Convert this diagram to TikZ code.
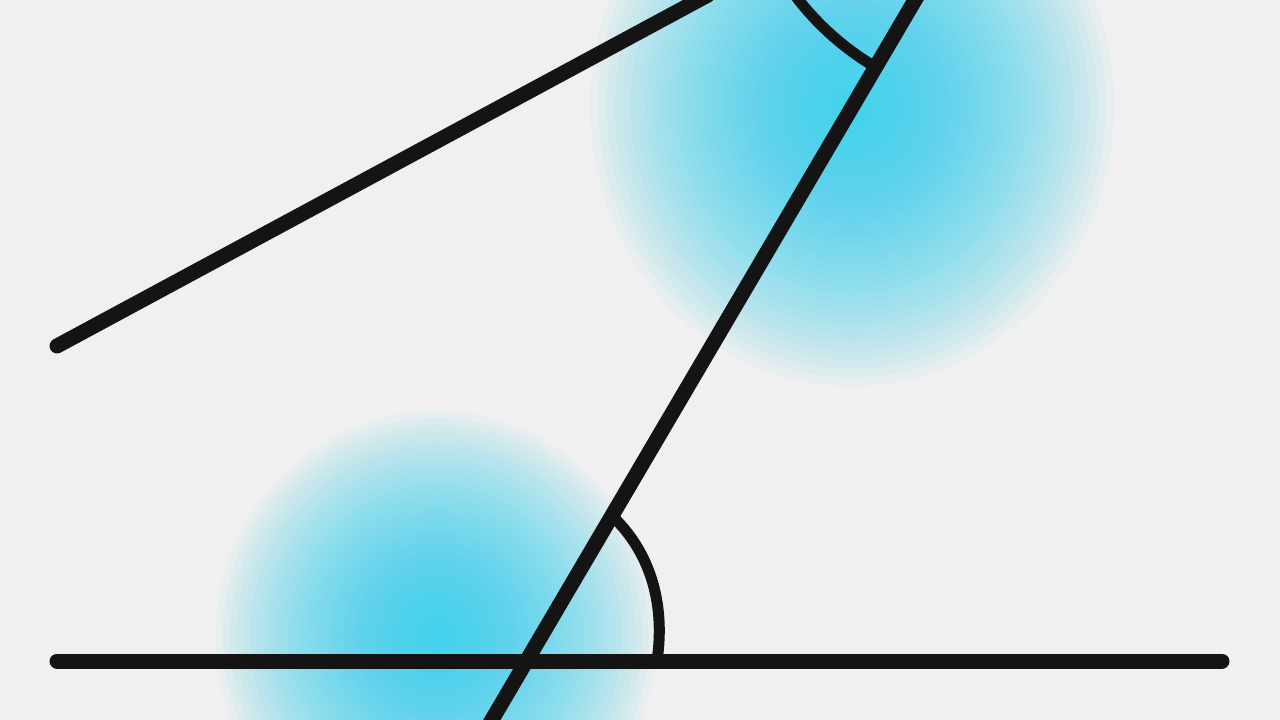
\documentclass[tikz,border=0pt]{standalone}
\usetikzlibrary{calc}
\definecolor{bg}{RGB}{240,240,240}
\definecolor{glowc}{RGB}{60,210,236}
\begin{document}
\begin{tikzpicture}[x=1pt,y=-1pt,
  ray/.style={line width=15pt,line cap=round,black!92},
  anglemark/.style={line width=11pt,black!92},
  glowring/.style={fill=glowc,opacity=0.055}]
\useasboundingbox (0,0) rectangle (1280,720);
\fill[bg] (0,0) rectangle (1280,720);
% glows
\coordinate (g1) at (436,636);
\coordinate (g2) at (852,106);
\foreach \i in {1,...,50}{
  \pgfmathsetmacro{\f}{(\i/50)^1.6}
  \fill[glowring] (g1) ellipse [x radius=\f*220, y radius=\f*225];
  \fill[glowring] (g2) ellipse [x radius=\f*262, y radius=\f*280];
}
% points
\coordinate (hL) at (57,661);
\coordinate (hR) at (1222,661);
\coordinate (tB) at (483,735);
\coordinate (tT) at (918,-5);
\coordinate (lL) at (57,346);
\coordinate (lT) at (708,-5);
\coordinate (X) at (intersection of lL--lT and tB--tT);
% lines
\draw[ray] (hL) -- (hR);
\draw[ray] (tB) -- (tT);
\draw[ray] (lL) -- (lT);
% angle marks
\coordinate (a1) at (657,661);
\coordinate (a2) at (609,513);
\draw[anglemark] (a1) .. controls (666,600) and (648,548) .. (a2);
\draw[anglemark] (X) ++(152:276) arc[start angle=152, end angle=120.6, radius=276];
\end{tikzpicture}
\end{document}
